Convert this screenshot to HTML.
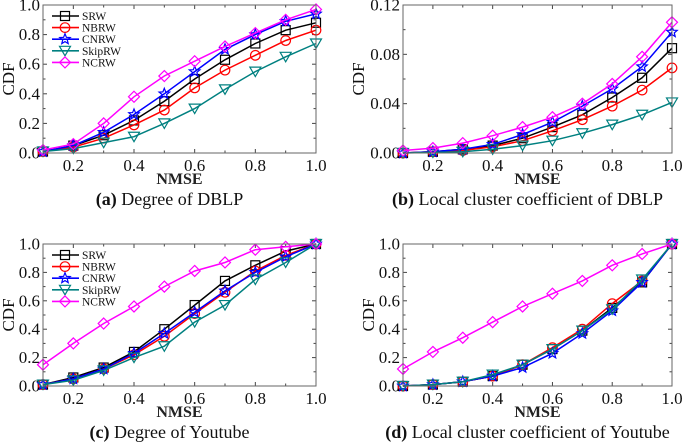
<!DOCTYPE html>
<html><head><meta charset="utf-8"><style>
body{margin:0;background:#fff;}
svg{display:block;font-family:"Liberation Serif",serif;}
</style></head><body>
<svg id="chart" width="685" height="447" viewBox="0 0 685 447" xmlns="http://www.w3.org/2000/svg"></svg>
<script>
const xCats=[0.1,0.2,0.3,0.4,0.5,0.6,0.7,0.8,0.9,1.0];
const seriesNames=["SRW","NBRW","CNRW","SkipRW","NCRW"];
const aSRW=[0.01,0.05,0.12,0.22,0.35,0.50,0.63,0.74,0.83,0.88];
const aNBRW=[0.01,0.04,0.10,0.19,0.29,0.44,0.56,0.66,0.76,0.83];
const aCNRW=[0.01,0.05,0.14,0.26,0.40,0.55,0.70,0.80,0.89,0.94];
const aSkip=[0.01,0.03,0.07,0.11,0.20,0.30,0.43,0.55,0.65,0.74];
const aNCRW=[0.02,0.06,0.20,0.38,0.52,0.62,0.72,0.81,0.90,0.97];
const bSRW=[0,0.001,0.003,0.006,0.012,0.021,0.031,0.045,0.061,0.085];
const bNBRW=[0,0.001,0.002,0.005,0.010,0.018,0.027,0.038,0.051,0.069];
const bCNRW=[0,0.001,0.003,0.007,0.015,0.025,0.038,0.052,0.070,0.098];
const bSkip=[0,0.0005,0.001,0.003,0.006,0.010,0.016,0.023,0.031,0.041];
const bNCRW=[0.002,0.004,0.008,0.014,0.021,0.029,0.040,0.056,0.078,0.106];
const cSRW=[0.01,0.06,0.13,0.24,0.40,0.57,0.74,0.85,0.95,1.0];
const cNBRW=[0.01,0.05,0.12,0.22,0.35,0.51,0.66,0.81,0.92,1.0];
const cCNRW=[0.01,0.05,0.12,0.23,0.37,0.52,0.67,0.80,0.91,1.0];
const cSkip=[0.01,0.04,0.11,0.20,0.28,0.45,0.57,0.75,0.87,1.0];
const cNCRW=[0.15,0.30,0.44,0.56,0.70,0.81,0.87,0.96,0.98,1.0];
const dSRW=[0,0.01,0.03,0.07,0.15,0.26,0.39,0.55,0.73,1.0];
const dNBRW=[0,0.01,0.03,0.07,0.15,0.27,0.40,0.58,0.74,1.0];
const dCNRW=[0,0.01,0.03,0.07,0.13,0.23,0.37,0.53,0.73,1.0];
const dSkip=[0,0.01,0.03,0.08,0.15,0.26,0.39,0.54,0.75,1.0];
const dNCRW=[0.12,0.24,0.34,0.45,0.56,0.65,0.74,0.85,0.93,1.0];
const xTicks=[0.2,0.4,0.6,0.8,1.0];
const xTickLabels=["0.2","0.4","0.6","0.8","1.0"];
const yTicks1=[0,0.2,0.4,0.6,0.8,1.0];
const yTickLabels1=["0.0","0.2","0.4","0.6","0.8","1.0"];
const yTicks2=[0,0.04,0.08,0.12];
const yTickLabels2=["0.00","0.04","0.08","0.12"];

const colors=["#000","#ff0000","#0000ff","#008080","#ff00ff"];
const NS="http://www.w3.org/2000/svg";
const svg=document.getElementById('chart');
function mk(tag,attrs,parent){const e=document.createElementNS(NS,tag);for(const k in attrs)e.setAttribute(k,attrs[k]);(parent||svg).appendChild(e);return e;}

function marker(g,i,x,y){
  const c=colors[i];const st={fill:"none",stroke:c,"stroke-width":1.2};
  let m;
  if(i===0)m=mk('rect',Object.assign({x:x-4.5,y:y-4.5,width:9,height:9},st),g);
  else if(i===1)m=mk('circle',Object.assign({cx:x,cy:y,r:4.8},st),g);
  else if(i===2){let p=[];for(let k=0;k<10;k++){const r=k%2?2.4:5.5;const a=-Math.PI/2+k*Math.PI/5;p.push((x+r*Math.cos(a)).toFixed(1)+","+(y+r*Math.sin(a)).toFixed(1));}m=mk('polygon',Object.assign({points:p.join(" ")},st),g);}
  else if(i===3)m=mk('polygon',Object.assign({points:`${x-5.5},${y-4.5} ${x+5.5},${y-4.5} ${x},${y+5}`},st),g);
  else m=mk('polygon',Object.assign({points:`${x},${y-5.5} ${x+5.5},${y} ${x},${y+5.5} ${x-5.5},${y}`},st),g);
  
  
}

function panel(id,L,R,T,B,ymax,yt,ytl,series,caption,legend){
  const g=mk('g',{});
  
  
  const sx=v=>L+(v-0.1)/0.9*(R-L);
  const sy=v=>B-v/ymax*(B-T);
  for(let k=0;k<xTicks.length;k++){
    const x=sx(xTicks[k]);
    mk('line',{x1:x,y1:B,x2:x,y2:B-4,stroke:"#444"},g);
    mk('line',{x1:x,y1:T,x2:x,y2:T+4,stroke:"#444"},g);
    const t=mk('text',{x:x,y:B+18,"font-size":17,"text-anchor":"middle",fill:"#111"},g);t.textContent=xTickLabels[k];
    
    const mx=sx(xTicks[k]-0.1);
    if(xTicks[k]-0.1>0.1){mk('line',{x1:mx,y1:B,x2:mx,y2:B-2.5,stroke:"#444"},g);mk('line',{x1:mx,y1:T,x2:mx,y2:T+2.5,stroke:"#444"},g);}
  }
  for(let k=0;k<yt.length;k++){
    const y=sy(yt[k]);
    mk('line',{x1:L,y1:y,x2:L+4,y2:y,stroke:"#444"},g);
    mk('line',{x1:R,y1:y,x2:R-4,y2:y,stroke:"#444"},g);
    if(k>0){const my=sy((yt[k]+yt[k-1])/2);mk('line',{x1:L,y1:my,x2:L+2.5,y2:my,stroke:"#444"},g);mk('line',{x1:R,y1:my,x2:R-2.5,y2:my,stroke:"#444"},g);}
    const t=mk('text',{x:L-3,y:y+5.5,"font-size":17,"text-anchor":"end",fill:"#111"},g);t.textContent=ytl[k];
    
  }
  const xl=mk('text',{x:(L+R)/2,y:B+31,"font-size":16,"font-weight":"bold","text-anchor":"middle",fill:"#222"},g);xl.textContent="NMSE";
  
  const yl=mk('text',{x:0,y:0,"font-size":17,"text-anchor":"middle",fill:"#111",transform:`translate(${L-(ymax<1?39:29)},${(T+B)/2}) rotate(-90)`},g);yl.textContent="CDF";
  
  series.forEach((s,i)=>{
    const sg=mk('g',{},g);
    
    
    const pts=s.map((v,j)=>sx(xCats[j]).toFixed(1)+","+sy(v).toFixed(1)).join(" ");
    const pl=mk('polyline',{points:pts,fill:"none",stroke:colors[i],"stroke-width":1.5},sg);
    
    
    s.forEach((v,j)=>marker(sg,i,sx(xCats[j]),sy(v)));
  });
  mk('rect',{x:L,y:T,width:R-L,height:B-T,fill:"none",stroke:"#666","stroke-width":1},g);
  if(legend){
    const lg=mk('g',{},g);
    
    seriesNames.forEach((n,i)=>{
      const y=T+11+i*11.6;
      const e=mk('g',{},lg);
      
      mk('line',{x1:L+9,y1:y,x2:L+36,y2:y,stroke:colors[i],"stroke-width":1.6},e);
      marker(e,i,L+22,y);
      const t=mk('text',{x:L+39,y:y+4,"font-size":11.5,fill:"#111"},e);t.textContent=n;
    });
  }
  const cap=mk('text',{x:(L+R)/2-10,y:B+52,"font-size":18,"text-anchor":"middle",fill:"#111"},g);
  
  const b=document.createElementNS(NS,'tspan');b.setAttribute('font-weight','bold');b.textContent=caption[0]+" ";cap.appendChild(b);
  const r=document.createElementNS(NS,'tspan');r.textContent=caption[1];cap.appendChild(r);
}
panel('panel-a-degree-dblp',43,316,5,153,1,yTicks1,yTickLabels1,[aSRW,aNBRW,aCNRW,aSkip,aNCRW],["(a)","Degree of DBLP"],true);
panel('panel-b-cluster-dblp',403,672,5,153,0.12,yTicks2,yTickLabels2,[bSRW,bNBRW,bCNRW,bSkip,bNCRW],["(b)","Local cluster coefficient of DBLP"],false);
panel('panel-c-degree-youtube',43,316,244,386,1,yTicks1,yTickLabels1,[cSRW,cNBRW,cCNRW,cSkip,cNCRW],["(c)","Degree of Youtube"],true);
panel('panel-d-cluster-youtube',403,672,244,386,1,yTicks1,yTickLabels1,[dSRW,dNBRW,dCNRW,dSkip,dNCRW],["(d)","Local cluster coefficient of Youtube"],false);
</script>
</body></html>
